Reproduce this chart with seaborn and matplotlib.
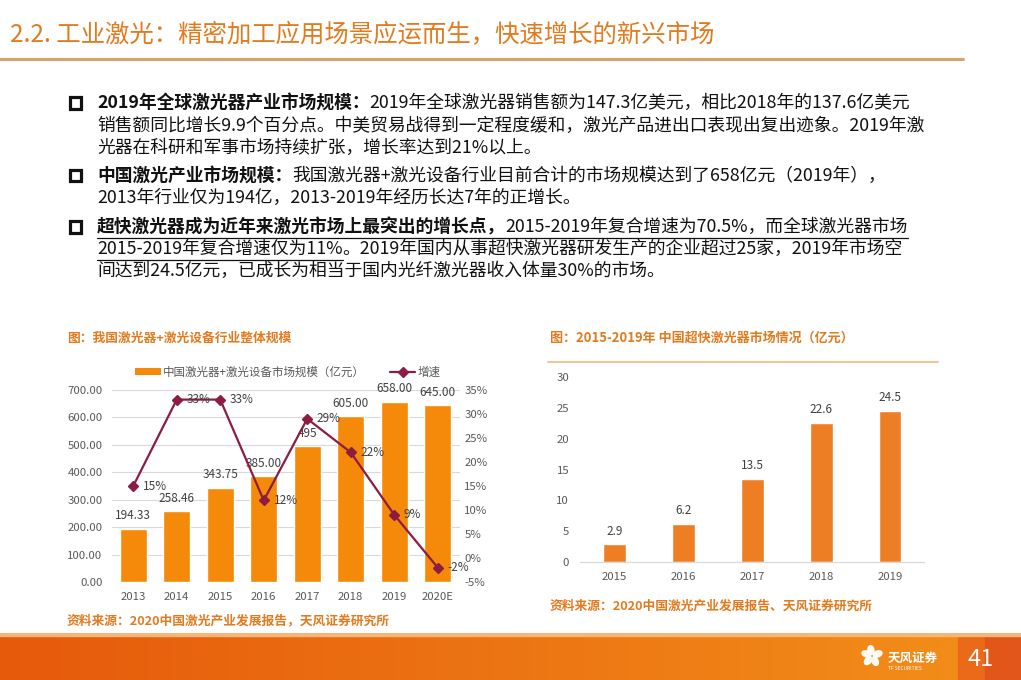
import matplotlib
matplotlib.use("Agg")
import matplotlib.pyplot as plt
import seaborn as sns
import numpy as np
import pandas as pd
from matplotlib.patches import Rectangle, Ellipse, Patch
from matplotlib.lines import Line2D
from matplotlib.colors import to_rgb

# ---------------- data ----------------
years_left = ["2013", "2014", "2015", "2016", "2017", "2018", "2019", "2020E"]
market_size = [194.33, 258.46, 343.75, 385.00, 495.00, 605.00, 658.00, 645.00]
market_labels = ["194.33", "258.46", "343.75", "385.00", "495", "605.00", "658.00", "645.00"]
growth = [0.15, 0.33, 0.33, 0.12, 0.29, 0.22, 0.09, -0.02]
growth_labels = ["15%", "33%", "33%", "12%", "29%", "22%", "9%", "-2%"]
left_ticks = [0, 100, 200, 300, 400, 500, 600, 700]
right_ticks = [-0.05, 0.0, 0.05, 0.10, 0.15, 0.20, 0.25, 0.30, 0.35]

years_right = ["2015", "2016", "2017", "2018", "2019"]
ultrafast = [2.9, 6.2, 13.5, 22.6, 24.5]
ultrafast_ticks = [0, 5, 10, 15, 20, 25, 30]

title_text = "2.2. 工业激光：精密加工应用场景应运而生，快速增长的新兴市场"
bullets = [
    [("2019年全球激光器产业市场规模：", True), ("2019年全球激光器销售额为147.3亿美元，相比2018年的137.6亿美元", False)],
    [("销售额同比增长9.9个百分点。中美贸易战得到一定程度缓和，激光产品进出口表现出复出迹象。2019年激", False)],
    [("光器在科研和军事市场持续扩张，增长率达到21%以上。", False)],
    [("中国激光产业市场规模：", True), ("我国激光器+激光设备行业目前合计的市场规模达到了658亿元（2019年），", False)],
    [("2013年行业仅为194亿，2013-2019年经历长达7年的正增长。", False)],
    [("超快激光器成为近年来激光市场上最突出的增长点，", True), ("2015-2019年复合增速为70.5%，而全球激光器市场", False)],
    [("2015-2019年复合增速仅为11%", False), ("。2019年国内从事超快激光器研发生产的企业超过25家，2019年市场空", False)],
    [("间达到24.5亿元，已成长为相当于国内光纤激光器收入体量30%的市场。", False)],
]
line_y = [103, 126, 148, 176, 198, 227, 249, 271]
bullet_rows = [0, 3, 5]
underlined = {(5, 0), (5, 1), (6, 0)}

left_title = "图：我国激光器+激光设备行业整体规模"
left_source = "资料来源：2020中国激光产业发展报告，天风证券研究所"
right_title = "图：2015-2019年 中国超快激光器市场情况（亿元）"
right_source = "资料来源：2020中国激光产业发展报告、天风证券研究所"
legend_bar = "中国激光器+激光设备市场规模（亿元）"
legend_line = "增速"

# ---------------- style ----------------
sns.set_theme(style="white")
plt.rcParams["font.family"] = ["Noto Sans CJK SC", "DejaVu Sans"]
plt.rcParams["axes.unicode_minus"] = False

W, H = 1021, 680
fig = plt.figure(figsize=(W / 100, H / 100), dpi=100)
fig.patch.set_facecolor("white")


def rect(x0, y0, x1, y1):
    return [x0 / W, 1 - y1 / H, (x1 - x0) / W, (y1 - y0) / H]


def fx(x):
    return x / W


def fy(y):
    return 1 - y / H


ORANGE_T = "#E27A1E"
BAR_L = "#F58A0A"
BAR_R = "#EE7E24"
LINE_C = "#8C1D40"
GREY_T = "#595959"
LABEL_T = "#404040"

# ---------------- header ----------------
fig.text(fx(10), fy(35), title_text, fontsize=17.6, color=ORANGE_T, va="center", ha="left")
fig.add_artist(Line2D([0, fx(963)], [fy(59), fy(59)], color="#D9A46C", lw=2.2))

# ---------------- bullets ----------------
renderer = fig.canvas.get_renderer()
for i, (segs, y) in enumerate(zip(bullets, line_y)):
    x = 97
    for j, (txt, bold) in enumerate(segs):
        t = fig.text(fx(x), fy(y), txt, fontsize=12.8, color="#111111",
                     fontweight="bold" if bold else "normal", va="center", ha="left")
        bb = t.get_window_extent(renderer)
        x1 = bb.x1
        if (i, j) in underlined:
            fig.add_artist(Line2D([fx(x), fx(x1)], [fy(y + 10.5), fy(y + 10.5)], color="#111111", lw=0.9))
        x = x1
for r in bullet_rows:
    y = line_y[r]
    fig.add_artist(Rectangle((fx(70), fy(y + 5.5)), 11 / W, 11 / H, transform=fig.transFigure,
                             fill=False, edgecolor="#111111", lw=2.3))

# ---------------- left chart ----------------
fig.text(fx(67), fy(338), left_title, fontsize=9.2, color=ORANGE_T, fontweight="bold", va="center")
ax1 = fig.add_axes(rect(111.5, 390, 459.5, 582))
df_left = pd.DataFrame({"year": years_left, "size": market_size})
sns.barplot(data=df_left, x="year", y="size", ax=ax1, color=BAR_L, width=0.62, saturation=1, zorder=2)
ax1.set_ylim(0, 700)
ax1.set_yticks(left_ticks)
ax1.set_yticklabels([f"{v:.2f}" for v in left_ticks])
ax1.set_xlim(-0.5, len(years_left) - 0.5)
ax1.yaxis.grid(True, color="#D9D9D9", lw=0.8)
ax1.set_axisbelow(True)
for s in ax1.spines.values():
    s.set_visible(False)
ax1.set_xlabel("")
ax1.set_ylabel("")
ax1.tick_params(axis="y", labelsize=8.2, colors=GREY_T, length=0, pad=6.5)
ax1.tick_params(axis="x", labelsize=8.2, colors=GREY_T, length=0, pad=7)
for i, (v, lbl) in enumerate(zip(market_size, market_labels)):
    ax1.annotate(lbl, (i, v), xytext=(0, 9.4), textcoords="offset points",
                 ha="center", va="center", fontsize=8.5, color=LABEL_T)

ax2 = ax1.twinx()
ax2.plot(np.arange(len(growth)), growth, color=LINE_C, lw=1.6, marker="D", markersize=5.5, zorder=3)
ax2.set_ylim(-0.05, 0.35)
ax2.set_yticks(right_ticks)
ax2.set_yticklabels([f"{round(v * 100):d}%" for v in right_ticks])
ax2.tick_params(axis="y", labelsize=8.2, colors=GREY_T, length=0, pad=3.5)
for s in ax2.spines.values():
    s.set_visible(False)
for i, (g, lbl) in enumerate(zip(growth, growth_labels)):
    ax2.annotate(lbl, (i, g), xytext=(7, 0), textcoords="offset points",
                 ha="left", va="center", fontsize=8.5, color=LABEL_T)

handles = [Patch(facecolor=BAR_L, edgecolor="none"),
           Line2D([0], [0], color=LINE_C, lw=1.6, marker="D", markersize=5)]
fig.legend(handles, [legend_bar, legend_line], loc="center", bbox_to_anchor=(fx(288), fy(372)),
           ncol=2, frameon=False, fontsize=8.3, labelcolor=GREY_T, handlelength=2.2,
           handleheight=0.6, columnspacing=2.2, handletextpad=0.2)
fig.text(fx(67), fy(621), left_source, fontsize=9.2, color=ORANGE_T, fontweight="bold", va="center")

# ---------------- right chart ----------------
fig.text(fx(550), fy(338), right_title, fontsize=9.4, color=ORANGE_T, fontweight="bold", va="center")
fig.add_artist(Line2D([fx(548), fx(938)], [fy(362), fy(362)], color="#F2C089", lw=1.3))
ax3 = fig.add_axes(rect(580.3, 377, 924.4, 562))
df_right = pd.DataFrame({"year": years_right, "value": ultrafast})
sns.barplot(data=df_right, x="year", y="value", ax=ax3, color=BAR_R, width=0.33, saturation=1)
ax3.set_ylim(0, 30)
ax3.set_yticks(ultrafast_ticks)
ax3.set_xlim(-0.5, len(years_right) - 0.5)
for k, s in ax3.spines.items():
    s.set_visible(k == "bottom")
ax3.spines["bottom"].set_color("#D9D9D9")
ax3.spines["bottom"].set_linewidth(0.9)
ax3.set_xlabel("")
ax3.set_ylabel("")
ax3.tick_params(axis="y", labelsize=8.2, colors=GREY_T, length=0, pad=8)
ax3.tick_params(axis="x", labelsize=8.2, colors=GREY_T, length=0, pad=7)
for i, v in enumerate(ultrafast):
    ax3.annotate(f"{v:.1f}", (i, v), xytext=(0, 9.4), textcoords="offset points",
                 ha="center", va="center", fontsize=8.5, color=LABEL_T)
fig.text(fx(550), fy(606), right_source, fontsize=9.2, color=ORANGE_T, fontweight="bold", va="center")

# ---------------- footer ----------------
axf = fig.add_axes(rect(0, 633, W, H))
axf.set_axis_off()
c0 = np.array(to_rgb("#E65A0C"))
c1 = np.array(to_rgb("#F3901A"))
t = np.linspace(0, 1, 256)[None, :, None]
grad = c0 + (c1 - c0) * t
grad = np.repeat(grad, 2, axis=0)
axf.imshow(grad, aspect="auto", extent=[0, W, 0, 47])
axf.add_patch(Rectangle((958, 0), 63, 47, color="#EA6A1A"))
axf.add_patch(Rectangle((985, 0), 36, 47, color="#E0521A", alpha=0.8))
axf.add_patch(Rectangle((0, 44), W, 3, color="#F7B577"))
axf.set_xlim(0, W)
axf.set_ylim(0, 47)
for ang in [20, 100, 160, 230, 300]:
    a = np.deg2rad(ang)
    axf.add_patch(Ellipse((872 + 6 * np.cos(a), 24 + 6 * np.sin(a)), 9, 6, angle=ang,
                          color="white", alpha=0.95))
axf.text(888, 22, "天风证券", color="white", fontsize=9, va="center", ha="left", fontweight="bold")
axf.text(888, 12, "TF SECURITIES", color="white", fontsize=3.5, va="center", ha="left")
axf.text(981, 20, "41", color="white", fontsize=17, va="center", ha="center")

fig.savefig("out.png", dpi=100)
